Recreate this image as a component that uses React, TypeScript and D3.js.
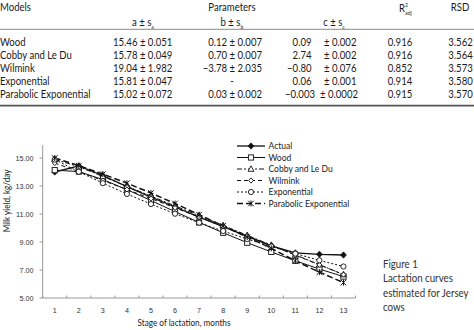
import React from "react";
import * as d3 from "d3";

const months = [1, 2, 3, 4, 5, 6, 7, 8, 9, 10, 11, 12, 13];
const yTicks = [5, 7, 9, 11, 13, 15];
const actual = [14.0, 14.43, 13.75, 12.95, 12.2, 11.5, 10.78, 10.1, 9.4, 8.72, 8.22, 8.12, 8.07];
const wood = [14.13, 14.03, 13.46, 12.74, 11.96, 11.17, 10.4, 9.66, 8.95, 8.29, 7.66, 7.07, 6.53];
const cobby = [14.9, 14.38, 13.68, 12.98, 12.28, 11.58, 10.88, 10.18, 9.48, 8.78, 8.08, 7.38, 6.68];
const wilmink = [14.64, 14.02, 13.39, 12.75, 12.1, 11.44, 10.78, 10.11, 9.43, 8.75, 8.06, 7.37, 6.67];
const exponential = [14.89, 14.02, 13.2, 12.43, 11.71, 11.02, 10.38, 9.78, 9.21, 8.68, 8.17, 7.69, 7.25];
const parabolic = [15.0, 14.45, 13.85, 13.2, 12.5, 11.75, 10.95, 10.15, 9.35, 8.55, 7.65, 6.85, 6.1];

const modelNames = ["Wood", "Cobby and Le Du", "Wilmink", "Exponential", "Parabolic Exponential"];
const colA = ["15.46 ± 0.051", "15.78 ± 0.049", "19.04 ± 1.982", "15.81 ± 0.047", "15.02 ± 0.072"];
const colB = ["0.12  ± 0.007", "0.70 ± 0.007", "−3.78 ± 2.035", "-", "0.03 ± 0.002"];
const colCval = ["0.09", "2.74", "−0.80", "0.06", "−0.003"];
const colCerr = ["± 0.002", "± 0.002", "± 0.076", "± 0.001", "± 0.0002"];
const colR2 = ["0.916", "0.916", "0.852", "0.914", "0.915"];
const colRSD = ["3.562", "3.564", "3.573", "3.580", "3.570"];

const seriesNames = ["Actual", "Wood", "Cobby and Le Du", "Wilmink", "Exponential", "Parabolic Exponential"];
const seriesValues = [actual, wood, cobby, wilmink, exponential, parabolic];
const captionLines = ["Figure 1", "Lactation curves", "estimated for Jersey", "cows"];

const FONT = "Lato, sans-serif";
const CH = "'Liberation Sans', Arial, sans-serif";
const SX = 0.87;

const styles = [
  { dash: "", width: 1.3, marker: "fdiamond" },
  { dash: "", width: 1.0, marker: "square" },
  { dash: "5,2,2,2", width: 1.0, marker: "triangle" },
  { dash: "4,3", width: 1.0, marker: "diamond" },
  { dash: "2,2", width: 1.0, marker: "circle" },
  { dash: "6,3", width: 1.5, marker: "star" },
];

function Marker({ type, x, y }: { type: string; x: number; y: number }) {
  const c = "#111";
  switch (type) {
    case "fdiamond":
      return <path d={`M${x},${y - 3.2}L${x + 3},${y}L${x},${y + 3.2}L${x - 3},${y}Z`} fill={c} stroke={c} strokeWidth={0.6} />;
    case "square":
      return <rect x={x - 2.6} y={y - 2.6} width={5.2} height={5.2} fill="white" stroke={c} strokeWidth={0.9} />;
    case "triangle":
      return <path d={`M${x},${y - 3.2}L${x + 3},${y + 2.3}L${x - 3},${y + 2.3}Z`} fill="white" stroke={c} strokeWidth={0.9} />;
    case "diamond":
      return <path d={`M${x},${y - 2.6}L${x + 2.4},${y}L${x},${y + 2.6}L${x - 2.4},${y}Z`} fill="white" stroke={c} strokeWidth={0.9} />;
    case "circle":
      return <circle cx={x} cy={y} r={2.6} fill="white" stroke={c} strokeWidth={0.9} />;
    case "star":
      return (
        <g stroke={c} strokeWidth={1}>
          <line x1={x - 2.8} y1={y - 2.8} x2={x + 2.8} y2={y + 2.8} />
          <line x1={x - 2.8} y1={y + 2.8} x2={x + 2.8} y2={y - 2.8} />
          <line x1={x} y1={y - 3} x2={x} y2={y + 3} />
        </g>
      );
    default:
      return null;
  }
}

function T({ x, y, children, anchor = "start", size = 11, sx = SX, fill = "#1a1a1a", family = FONT }: any) {
  return (
    <text
      transform={`translate(${x},${y}) scale(${sx},1)`}
      textAnchor={anchor}
      dy="0.35em"
      fontSize={size}
      fontFamily={family}
      fill={fill}
    >
      {children}
    </text>
  );
}

export default function App() {
  const x = d3.scaleLinear().domain([0.5, 13.5]).range([42.7, 355.5]);
  const y = d3.scaleLinear().domain([5, 15]).range([298, 158]);
  const line = d3
    .line<number>()
    .x((_, i) => x(months[i]))
    .y((v) => y(v));

  const rowY = [41.7, 54.9, 68.1, 81.3, 94.5];
  const boundaries = d3.range(0.5, 13.6, 1);

  return (
    <svg width={474} height={330} style={{ position: "absolute", left: 0, top: 0, background: "white" }}>
      {/* Table */}
      <T x={0} y={7.5}>Models</T>
      <T x={232} y={7.5} anchor="middle">Parameters</T>
      <text transform={`translate(399,8) scale(${SX},1)`} dy="0.35em" fontSize={11} fontFamily={FONT} fill="#1a1a1a">
        R
        <tspan fontSize={6} dy="-4.5">2</tspan>
        <tspan fontSize={6} dx="-3.5" dy="7.5">adj</tspan>
      </text>
      <T x={460} y={7.5} anchor="middle">RSD</T>
      {[
        ["a", "a", 143],
        ["b", "b", 232],
        ["c", "c", 334],
      ].map(([p, s, cx]) => (
        <text key={p as string} transform={`translate(${cx},21.7) scale(${SX},1)`} dy="0.35em" textAnchor="middle" fontSize={11} fontFamily={FONT} fill="#1a1a1a">
          {`${p} ± s`}
          <tspan fontSize={6} dy="3">{s}</tspan>
        </text>
      ))}
      <line x1={0} x2={474} y1={29.3} y2={29.3} stroke="#8a8a8a" strokeWidth={1} />
      {modelNames.map((m, i) => (
        <g key={m}>
          <T x={0} y={rowY[i]}>{m}</T>
          <T x={113} y={rowY[i]}>{colA[i]}</T>
          <T x={colB[i] === "-" ? 232 : 262} y={rowY[i]} anchor={colB[i] === "-" ? "middle" : "end"}>{colB[i]}</T>
          <T x={i === 4 ? 315 : 311.5} y={rowY[i]} anchor="end">{colCval[i]}</T>
          <T x={i === 4 ? 320 : 324} y={rowY[i]}>{colCerr[i]}</T>
          <T x={400} y={rowY[i]} anchor="middle">{colR2[i]}</T>
          <T x={460.5} y={rowY[i]} anchor="middle">{colRSD[i]}</T>
        </g>
      ))}
      <line x1={0} x2={474} y1={105.7} y2={105.7} stroke="#555" strokeWidth={1.8} />

      {/* Chart axes */}
      <line x1={42.7} x2={42.7} y1={145} y2={298} stroke="#999" strokeWidth={1} />
      <line x1={42.7} x2={355.5} y1={298} y2={298} stroke="#999" strokeWidth={1} />
      {yTicks.map((t) => (
        <g key={t}>
          <line x1={39.5} x2={42.7} y1={y(t)} y2={y(t)} stroke="#999" />
          <T x={33.5} y={y(t)} anchor="end" size={8} sx={0.9} family={CH} fill="#333">{t.toFixed(2)}</T>
        </g>
      ))}
      {boundaries.map((b) => (
        <line key={b} x1={x(b)} x2={x(b)} y1={298} y2={295.5} stroke="#999" />
      ))}
      {months.map((m) => (
        <T key={m} x={x(m)} y={310} anchor="middle" size={8} sx={0.9} family={CH} fill="#333">{m}</T>
      ))}
      <T x={184} y={323} anchor="middle" size={9.5} sx={0.86} fill="#222">Stage of lactation, months</T>
      <text transform={`translate(7,201) rotate(-90) scale(0.86,1)`} dy="0.35em" textAnchor="middle" fontSize={9.5} fontFamily={FONT} fill="#222">
        Milk yield, kg/day
      </text>

      {/* Series */}
      {seriesValues.map((vals, si) => (
        <path key={si} d={line(vals) || ""} fill="none" stroke="#111" strokeWidth={styles[si].width} strokeDasharray={styles[si].dash} />
      ))}
      {seriesValues.map((vals, si) => (
        <g key={"m" + si}>
          {vals.map((v, i) => (
            <Marker key={i} type={styles[si].marker} x={x(months[i])} y={y(v)} />
          ))}
        </g>
      ))}

      {/* Legend */}
      {seriesNames.map((n, i) => {
        const ly = 146 + i * 11.5;
        return (
          <g key={n}>
            <line x1={237} x2={265} y1={ly} y2={ly} stroke="#111" strokeWidth={styles[i].width} strokeDasharray={styles[i].dash} />
            <Marker type={styles[i].marker} x={251} y={ly} />
            <T x={268.5} y={ly} size={9.5} sx={0.9} fill="#222">{n}</T>
          </g>
        );
      })}

      {/* Caption */}
      {captionLines.map((c, i) => (
        <T key={c} x={383} y={263.3 + i * 14.5} size={12} sx={0.81} fill="#333">{c}</T>
      ))}
    </svg>
  );
}
